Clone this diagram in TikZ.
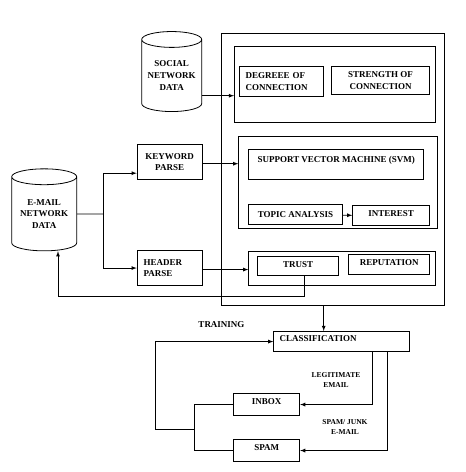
\documentclass[tikz,border=0pt]{standalone}
\usepackage{fontspec}
\setmainfont{Liberation Serif}
\usepackage{tikz}
\usetikzlibrary{arrows,positioning,calc,shapes}
\tikzset{box/.style={rectangle, draw=black, line width=0.8pt, font=\bfseries\fontsize{9}{11.5}\selectfont, align=center, inner sep=0pt, anchor=north west},
leftbox/.style={box, align=left, inner xsep=6pt},
upper/.style={text height=6.5pt, text depth=#1},
database/.style={cylinder, shape border rotate=90, aspect=0.33, draw=black, line width=0.8pt, font=\bfseries\fontsize{9}{11.8}\selectfont, align=center, inner sep=0pt},
tag/.style={font=\bfseries\fontsize{7.5}{10.4}\selectfont, align=center}}

\begin{document}
\begin{tikzpicture}[x=1pt,y=-1pt,>=latex,line width=0.8pt]
	\useasboundingbox (0,0) rectangle (466,472);
	\node[box, minimum width=223.6pt, minimum height=271.7pt] (outer) at (220.7,33.3) {};
	\node[box, minimum width=200.7pt, minimum height=76pt] (grpA) at (234,46.3) {};
	\node[leftbox, text width=72pt, minimum height=30pt] (deg) at (239.3,66.3) {DEGREEE OF\\CONNECTION};
	\node[box, minimum width=98.3pt, minimum height=28pt] (str) at (331,66.3) {STRENGTH OF\\CONNECTION};
	\node[box, minimum width=198.4pt, minimum height=91.7pt] (grpB) at (238.3,136) {};
	\node[box, upper=10pt, minimum width=175pt, minimum height=30.3pt] (svm) at (248.3,149) {SUPPORT VECTOR MACHINE (SVM)};
	\node[box, minimum width=93.4pt, minimum height=20pt] (topic) at (248.3,204.3) {TOPIC ANALYSIS};
	\node[box, upper=5pt, minimum width=77pt, minimum height=20pt] (int) at (352.3,205.3) {INTEREST};
	\node[box, minimum width=186.7pt, minimum height=34.6pt] (grpC) at (248.3,250.7) {};
	\node[box, upper=4pt, minimum width=81pt, minimum height=19.3pt] (trust) at (257.3,255.7) {TRUST};
	\node[box, upper=4pt, minimum width=81pt, minimum height=20pt] (rep) at (348.3,254.3) {REPUTATION};
	\node[box, minimum width=65pt, minimum height=35pt] (kw) at (136.7,144.3) {KEYWORD\\PARSE};
	\node[leftbox, inner xsep=6.5pt, text width=52pt, minimum height=35.3pt] (hdr) at (136.7,250) {HEADER\\PARSE};
	\node[database, minimum width=60pt, minimum height=80pt] (soc) at (171.7,75.7) {SOCIAL\\NETWORK\\DATA};
	\node[database, minimum width=65pt, minimum height=82pt] (mail) at (44.2,214) {E-MAIL\\NETWORK\\DATA};
	\node[leftbox, upper=6pt, text width=124pt, minimum height=20.3pt] (cls) at (273.3,331) {CLASSIFICATION};
	\node[box, upper=7pt, minimum width=66pt, minimum height=21.7pt] (inbox) at (233.3,393.3) {INBOX};
	\node[box, upper=6pt, minimum width=66pt, minimum height=21.7pt] (spam) at (233.3,439.3) {SPAM};
	\node[tag, font=\bfseries\fontsize{9}{11}\selectfont] (train) at (221.5,324.3) {TRAINING};
	\node[tag] (legit) at (336,380) {LEGITIMATE\\EMAIL};
	\node[tag] (junk) at (345,427) {SPAM/ JUNK\\E-MAIL};
	\coordinate (j) at (103.3,214);
	\coordinate (fb) at (58,296.7);
	\coordinate (tj) at (194.3,429.3);
	\coordinate (tl) at (155.3,429.3);
	\draw[->] ([yshift=-20pt]soc.east) -- ([yshift=-20pt]soc.east -| grpA.west);
	\draw (mail.east) -- (j);
	\draw[->] (j) |- ([yshift=-11pt]kw.west);
	\draw[->] (j) |- (hdr.west);
	\draw[->] ([yshift=-1.5pt]kw.east) -- ([yshift=-1.5pt]kw.east -| grpB.west);
	\draw[->] ([yshift=-1.5pt]hdr.east) -- ([yshift=-1.5pt]hdr.east -| grpC.west);
	\draw[->] (topic) -- (int);
	\draw[->] ([xshift=6.5pt]trust.south) |- (fb) -- (fb |- mail.south);
	\draw[->] ([xshift=-18pt]cls.north |- outer.south) -- ([xshift=-18pt]cls.north);
	\draw[->] ([xshift=30.4pt]cls.south) |- (inbox.east);
	\draw[->] ([xshift=45.4pt]cls.south) |- (spam.east);
	\draw (inbox.west) -| (tj) |- (spam.west);
	\draw[->] (tj) -- (tl) |- (cls.west);
\end{tikzpicture}
\end{document}
